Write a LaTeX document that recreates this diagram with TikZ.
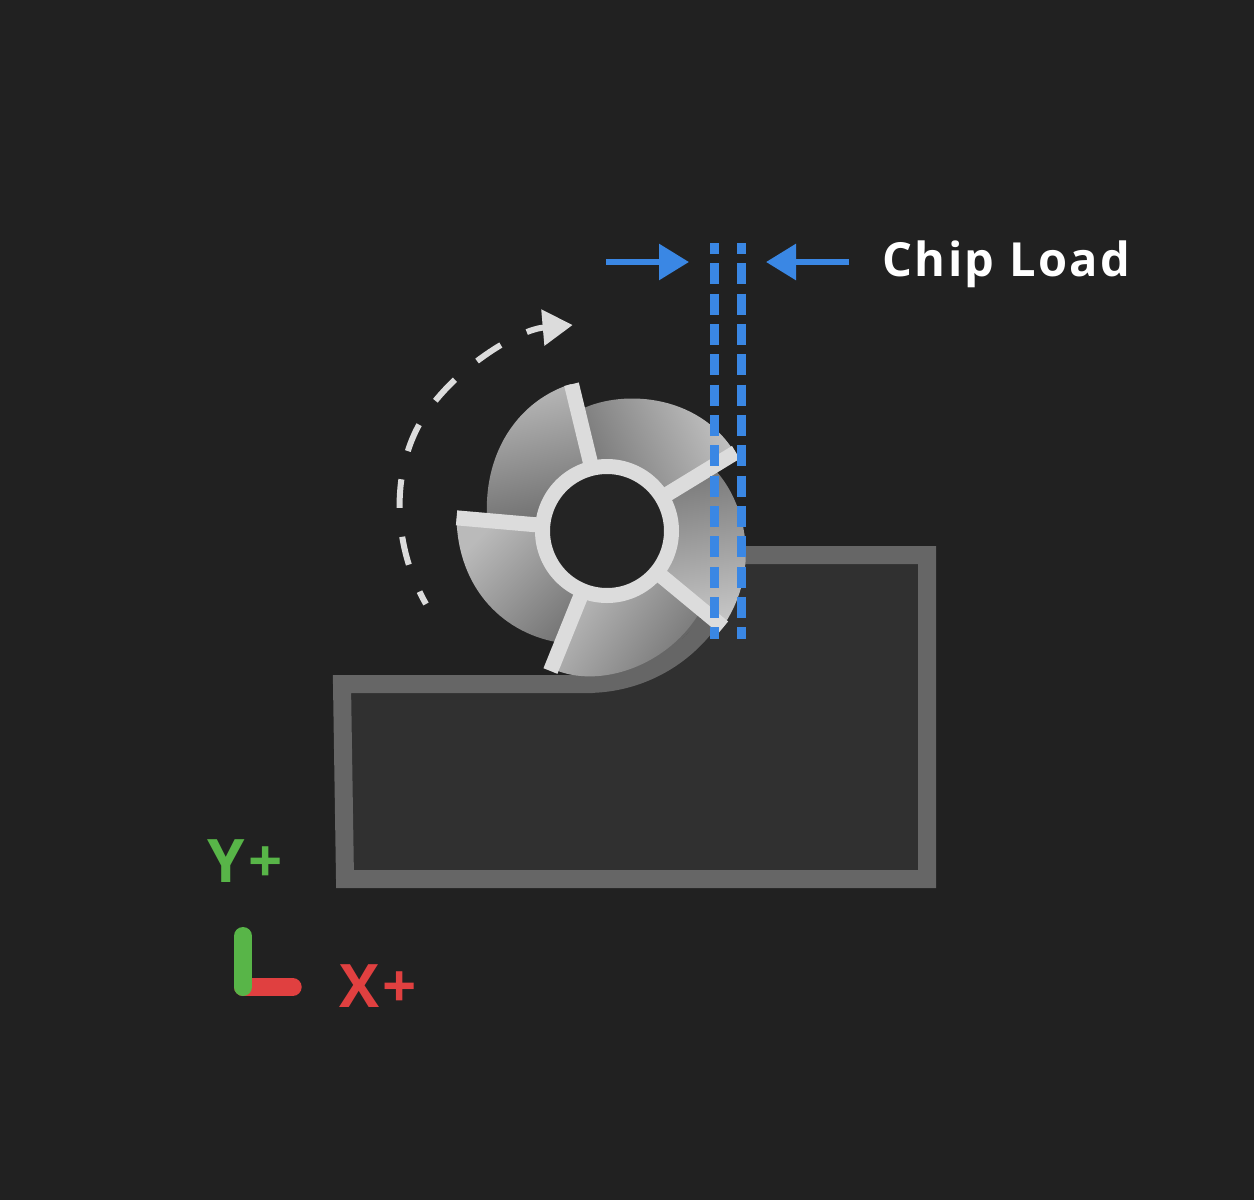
\documentclass[tikz,border=0pt]{standalone}
\usepackage{fontspec}
\setmainfont{Open Sans}
\usetikzlibrary{arrows.meta,calc}
\definecolor{bgDark}{HTML}{212121}
\definecolor{holeDark}{HTML}{242424}
\definecolor{stockFill}{HTML}{303030}
\definecolor{stockEdge}{HTML}{666666}
\definecolor{toolLight}{HTML}{DCDCDC}
\definecolor{loadBlue}{HTML}{3A87E4}
\definecolor{axisRed}{HTML}{E04040}
\definecolor{axisGreen}{HTML}{58B548}
\newcommand{\bigLabel}[2]{\fontsize{#1}{#1}\selectfont\bfseries\addfontfeature{LetterSpace=#2}}
\tikzset{
  spoke/.style={draw=toolLight,line width=15pt},
  loadline/.style={draw=loadBlue,line width=9pt,dash pattern=on 21pt off 9.33pt,dash phase=10pt},
  loadarrow/.style={draw=loadBlue,line width=6pt,-{Triangle[length=30pt,width=35pt]}},
  axisbar/.style={line width=18pt,line cap=round},
  textlabel/.style={anchor=base west,inner sep=0pt},
}
\begin{document}
\begin{tikzpicture}[x=1pt,y=-1pt]
   \fill[bgDark] (0,0) rectangle (1254,1200);
   \useasboundingbox (0,0) rectangle (1254,1200);
   \coordinate (hub) at (607,531);

   % stock
   \draw[stockEdge,fill=stockFill,line width=18pt,miter limit=10] (587,684) -- (342,684) -- (345,879) -- (927,879) -- (927,555) -- (736.4,555)
      arc[start angle=8.4,end angle=90,radius=151] -- cycle;
   \fill[stockEdge] (640,668) -- (670,650) -- (700,622) -- (700,600) -- (640,640) -- cycle;

   % flutes
   \shade[top color=black!28,bottom color=black!58,shading angle=12]
      (571,384) .. controls (520,400) and (484,450) .. (487,516) -- (hub) -- cycle;
   \shade[top color=black!56,bottom color=black!24,shading angle=115]
      (578,411) .. controls (618,389) and (698,392) .. (735,453) -- (hub) -- cycle;
   \shade[top color=black!54,bottom color=black!22,shading angle=10]
      (712,467) .. controls (742,495) and (765,565) .. (722.5,627) -- (hub) -- cycle;
   \shade[top color=black!54,bottom color=black!22,shading angle=-125]
      (553,669) .. controls (600,690) and (670,665) .. (701,610) -- (hub) -- cycle;
   \shade[top color=black!27,bottom color=black!56,shading angle=45]
      (456.5,518) .. controls (458,590) and (505,635) .. (562,643) -- (hub) -- cycle;

   \foreach \a in {-103.6,-31.4,39.6,112,-175}
   {%
      \draw[spoke] ($(hub)+(\a:60)$) -- ($(hub)+(\a:151)$);
   }
   \draw[toolLight,fill=holeDark,line width=15pt] (hub) circle (64.5);

   % rotation
   \draw[toolLight,line width=6pt,dash pattern=on 28.7pt off 29pt,dash phase=14.7pt,-{Triangle[length=30pt,width=35pt]}]
      (426,604) .. controls (395,550) and (390,480) .. (418,426.7)
      .. controls (445,375) and (515,330) .. (572.7,325);

   % chip load
   \draw[loadline] (714,243) -- (714,639);
   \draw[loadline] (741,243) -- (741,639);
   \coordinate (leftstart) at (606,262);
   \coordinate (lefttip) at (689,262);
   \coordinate (rightstart) at (849,262);
   \coordinate (righttip) at (766,262);
   \draw[loadarrow] (leftstart) -- (lefttip);
   \draw[loadarrow] (rightstart) -- (righttip);
   \node[textlabel,text=white] (chipload) at (882.5,276) {\bigLabel{47}{5}Chip Load};

   % axes
   \coordinate (origin) at (243,987);
   \coordinate (xend) at (292.7,987);
   \coordinate (yend) at (243,936);
   \draw[axisbar,axisRed] (origin) -- (xend);
   \draw[axisbar,axisGreen] (origin) -- (yend);
   \node[textlabel,text=axisGreen] (ylabel) at (207,882) {\bigLabel{60}{6}Y+};
   \node[textlabel,text=axisRed] (xlabel) at (339,1007.7) {\bigLabel{60}{5}X+};
\end{tikzpicture}
\end{document}
